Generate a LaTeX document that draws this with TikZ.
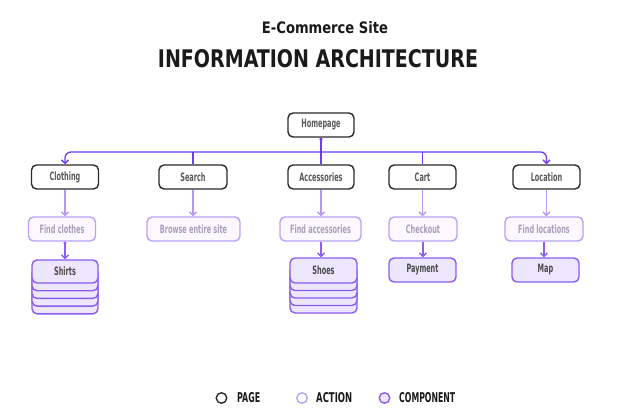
\documentclass[tikz,border=0pt]{standalone}
\usepackage{fontspec}
\setmainfont{DejaVu Sans Condensed}
\newfontfamily\nf{DejaVu Sans Condensed}[FakeStretch=0.63]
\newfontfamily\tf{DejaVu Sans Condensed}
\usetikzlibrary{arrows.meta}
\definecolor{pageline}{HTML}{2B2B2B}
\definecolor{pagetext}{HTML}{5A5A5A}
\definecolor{actline}{HTML}{B9A2F6}
\definecolor{actfill}{HTML}{FBF9FF}
\definecolor{acttext}{HTML}{A79FBC}
\definecolor{compline}{HTML}{8A5CF0}
\definecolor{compfill}{HTML}{EDE7FE}
\definecolor{comptext}{HTML}{4A4A4A}
\definecolor{buscol}{HTML}{6B3FF0}
\definecolor{lvla}{HTML}{B39AF5}
\definecolor{lvlb}{HTML}{8C60EE}
\definecolor{titlecol}{HTML}{1A1A1A}
\begin{document}
\begin{tikzpicture}[x=1pt,y=-1pt,
  box/.style={rounded corners=5pt, line width=1.4pt, minimum height=24pt, inner sep=0pt,
    font=\nf\bfseries\fontsize{11.5}{13}\selectfont},
  page/.style={box, draw=pageline, fill=white, text=pagetext},
  action/.style={box, draw=actline, fill=actfill, text=acttext},
  comp/.style={box, draw=compline, fill=compfill, text=comptext},
  barb/.tip={Straight Barb[length=3.5pt,width=7pt]},
  dot/.tip={Circle[length=3pt]},
  busline/.style={draw=buscol, line width=1.3pt},
  arra/.style={draw=lvla, line width=1.3pt, -barb},
  arrb/.style={draw=lvlb, line width=1.3pt, -barb},
  legc/.style={circle, minimum size=10.5pt, inner sep=0pt, line width=1.4pt},
  legt/.style={anchor=west, inner sep=0pt, text=titlecol}
]
\useasboundingbox (0,0) rectangle (630,412);
\fill[white] (0,0) rectangle (630,412);

% titles
\node[text=titlecol, inner sep=0pt] (t1) at (325,27.5) {\resizebox{126pt}{12pt}{\tf\bfseries E-Commerce Site}};
\node[text=titlecol, inner sep=0pt] (t2) at (318,59) {\resizebox{320pt}{18pt}{\tf\bfseries INFORMATION ARCHITECTURE}};

% pages
\node[page, minimum width=66pt] (home) at (321,125) {Homepage};
\node[page, minimum width=67pt] (cloth) at (65,177) {Clothing};
\node[page, minimum width=68pt] (search) at (193,177) {Search};
\node[page, minimum width=66pt] (acc) at (321,177) {Accessories};
\node[page, minimum width=67pt] (cart) at (422.5,177) {Cart};
\node[page, minimum width=67pt] (loc) at (546.5,177) {Location};

% actions
\node[action, minimum width=67pt] (fcl) at (62,229) {Find clothes};
\node[action, minimum width=93pt] (browse) at (193.5,229) {Browse entire site};
\node[action, minimum width=81pt] (facc) at (320.5,229) {Find accessories};
\node[action, minimum width=68pt] (check) at (423,229) {Checkout};
\node[action, minimum width=78pt] (floc) at (544,229) {Find locations};

% component stacks
\foreach \k in {4,3,2,1}{
  \node[comp, minimum width=66pt, minimum height=23pt] (shirts\k) at (65,{271.5+7.7*\k}) {};
  \node[comp, minimum width=67pt, minimum height=25pt] (shoes\k) at (323.5,{270.5+7.5*\k}) {};
}
\node[comp, minimum width=66pt, minimum height=23pt] (shirts) at (65,271.5) {Shirts};
\node[comp, minimum width=67pt, minimum height=25pt] (shoes) at (323.5,270.5) {Shoes};
\node[comp, minimum width=67pt] (pay) at (422.5,270) {Payment};
\node[comp, minimum width=67pt] (map) at (545.5,270) {Map};

% bus
\coordinate (bus) at (321,152);
\draw[busline, barb-barb, rounded corners=6pt] (cloth.north) |- (bus) -| (loc.north);
\draw[busline, dot-] (home.south) -- (acc.north);
\draw[busline] (search.north) -- (search.north |- bus);
\draw[busline] (cart.north) -- (cart.north |- bus);

% level 1 -> 2
\draw[arra] (cloth.south) -- (cloth.south |- fcl.north);
\draw[arra] (search.south) -- (search.south |- browse.north);
\draw[arra] (acc.south) -- (acc.south |- facc.north);
\draw[arra] (cart.south) -- (cart.south |- check.north);
\draw[arra] (loc.south) -- (loc.south |- floc.north);

% level 2 -> 3
\draw[arrb, dot-barb] (cloth.south |- fcl.south) -- (cloth.south |- shirts.north);
\draw[arrb] (acc.south |- facc.south) -- (acc.south |- shoes.north);
\draw[arrb] (check.south) -- (check.south |- pay.north);
\draw[arrb] (floc.south) -- (floc.south |- map.north);

% legend
\node[legc, draw=pageline, fill=white] (lp) at (221.5,398) {};
\node[legt] (lpt) at (237,398) {\resizebox{23pt}{10pt}{\tf\bfseries PAGE}};
\node[legc, draw=actline, fill=white] (la) at (302,398) {};
\node[legt] (lat) at (316,398) {\resizebox{36pt}{10pt}{\tf\bfseries ACTION}};
\node[legc, draw=compline, fill=compfill] (lc) at (384.5,398) {};
\node[legt] (lct) at (399,398) {\resizebox{56pt}{10pt}{\tf\bfseries COMPONENT}};
\end{tikzpicture}
\end{document}
